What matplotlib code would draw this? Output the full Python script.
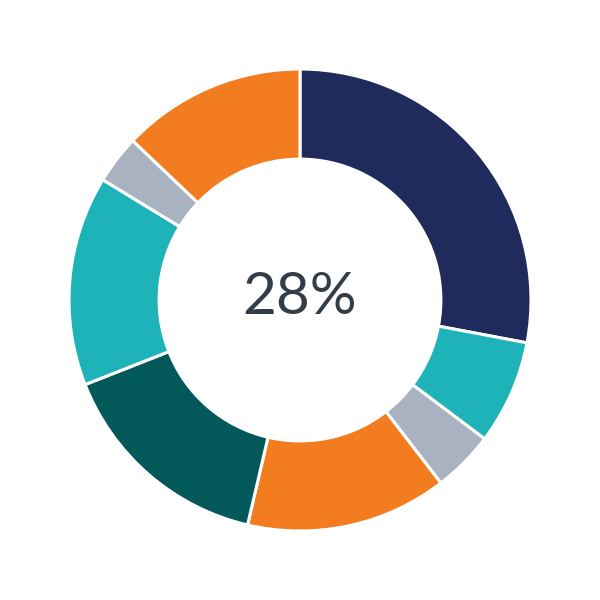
import matplotlib
matplotlib.use("Agg")
import matplotlib.pyplot as plt

labels = ["A", "B", "C", "D", "E", "F", "G", "H"]
values = [28.0, 7.3, 4.3, 14.1, 15.4, 14.7, 3.4, 12.9]
colors = ["#1e2b5c", "#1db3b8", "#a8b2c1", "#f47c20", "#03585a", "#1db3b8", "#a8b2c1", "#f47c20"]
center_text = "28%"

fig = plt.figure(figsize=(6, 6), dpi=100)
ax = fig.add_axes([0, 0, 1, 1])
ax.pie(values, colors=colors, startangle=90, counterclock=False, radius=1.0,
       wedgeprops=dict(width=0.39, edgecolor="white", linewidth=2.2))
lim = 300 / 231
ax.set_xlim(-lim, lim)
ax.set_ylim(-lim, lim)
ax.set_aspect("equal")
ax.axis("off")
ax.text(0, 0.01, center_text, ha="center", va="center", fontsize=42,
        color="#333d47", family="Lato", fontweight="normal")
fig.savefig("out.png", dpi=100)
